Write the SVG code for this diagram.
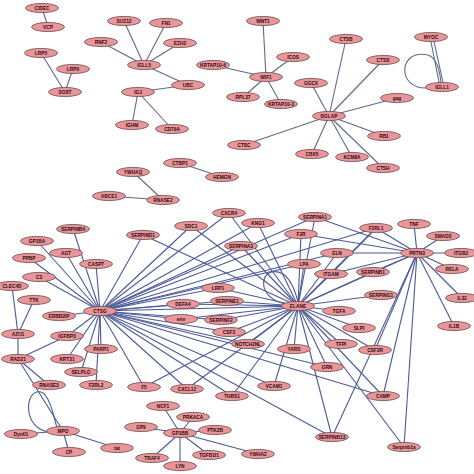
<svg xmlns="http://www.w3.org/2000/svg" width="474" height="474" viewBox="0 0 474 474">
<style>
.e line,.e path{stroke:#4b5a98;stroke-width:1.1;fill:none}
.g line{stroke:#5d6a88}
.n ellipse{fill:#e9969a;stroke:#6e4a4c;stroke-width:0.8}
.n text{font-family:"Liberation Sans",Arial,sans-serif;font-size:4.8px;font-weight:bold;fill:#2a0d10;text-anchor:middle}
</style>
<rect width="474" height="474" fill="#fff"/>
<g id="connectors" class="e">
<g class="g">
<line x1="42" y1="8" x2="48" y2="27"/>
<line x1="41" y1="53" x2="65" y2="92"/>
<line x1="73" y1="69" x2="65" y2="92"/>
<line x1="144" y1="65" x2="124" y2="21"/>
<line x1="144" y1="65" x2="166" y2="23"/>
<line x1="144" y1="65" x2="101" y2="42"/>
<line x1="144" y1="65" x2="180" y2="43"/>
<line x1="144" y1="65" x2="188" y2="85"/>
<line x1="188" y1="85" x2="138" y2="92"/>
<line x1="138" y1="92" x2="132" y2="125"/>
<line x1="138" y1="92" x2="172" y2="129"/>
<line x1="266" y1="77" x2="213" y2="65"/>
<line x1="266" y1="77" x2="263" y2="21"/>
<line x1="266" y1="77" x2="293" y2="57"/>
<line x1="266" y1="77" x2="243" y2="97"/>
<line x1="266" y1="77" x2="281" y2="104"/>
<line x1="329" y1="116" x2="346" y2="39"/>
<line x1="329" y1="116" x2="383" y2="60"/>
<line x1="329" y1="116" x2="311" y2="83"/>
<line x1="329" y1="116" x2="397" y2="98"/>
<line x1="329" y1="116" x2="244" y2="145"/>
<line x1="329" y1="116" x2="384" y2="136"/>
<line x1="329" y1="116" x2="312" y2="154"/>
<line x1="329" y1="116" x2="352" y2="157"/>
<line x1="329" y1="116" x2="383" y2="168"/>
<line x1="430" y1="37" x2="440" y2="87"/>
<line x1="433" y1="37" x2="444" y2="87"/>
<line x1="180" y1="163" x2="222" y2="177"/>
<line x1="133" y1="172" x2="163" y2="200"/>
<line x1="109" y1="196" x2="163" y2="200"/>
</g>
<path d="M428,88 C396,90 398,48 428,55 C437,58 440,72 441,83" style="stroke:#5d6a88"/>
<path d="M290,305 C252,300 260,262 283,274 C292,280 296,294 298,302"/>
<path d="M50,432 C22,430 24,388 41,392 C50,395 54,418 57,428"/>
<!-- CTSG -->
<line x1="100" y1="311" x2="73" y2="229"/>
<line x1="100" y1="311" x2="37" y2="241"/>
<line x1="100" y1="311" x2="66" y2="253"/>
<line x1="100" y1="311" x2="29" y2="258"/>
<line x1="100" y1="311" x2="96" y2="264"/>
<line x1="100" y1="311" x2="39" y2="277"/>
<line x1="100" y1="311" x2="143" y2="235"/>
<line x1="100" y1="311" x2="59" y2="316"/>
<line x1="100" y1="311" x2="67" y2="336"/>
<line x1="100" y1="311" x2="101" y2="349"/>
<line x1="100" y1="311" x2="67" y2="359"/>
<line x1="100" y1="311" x2="81" y2="372"/>
<line x1="100" y1="311" x2="96" y2="385"/>
<line x1="100" y1="311" x2="144" y2="387"/>
<line x1="100" y1="311" x2="229" y2="213"/>
<line x1="100" y1="311" x2="191" y2="226"/>
<line x1="100" y1="311" x2="258" y2="223"/>
<line x1="100" y1="311" x2="241" y2="246"/>
<line x1="100" y1="311" x2="301" y2="234"/>
<line x1="100" y1="311" x2="315" y2="217"/>
<line x1="100" y1="311" x2="218" y2="288"/>
<line x1="100" y1="311" x2="183" y2="304"/>
<line x1="100" y1="311" x2="181" y2="319"/>
<line x1="100" y1="311" x2="227" y2="301"/>
<line x1="100" y1="311" x2="221" y2="320"/>
<line x1="100" y1="311" x2="229" y2="332"/>
<line x1="100" y1="311" x2="248" y2="344"/>
<line x1="100" y1="311" x2="187" y2="389"/>
<line x1="100" y1="311" x2="232" y2="396"/>
<line x1="100" y1="311" x2="274" y2="386"/>
<line x1="100" y1="311" x2="332" y2="437"/>
<line x1="100" y1="311" x2="298" y2="306"/>
<line x1="100" y1="311" x2="327" y2="367"/>
<line x1="100" y1="311" x2="383" y2="396"/>
<line x1="100" y1="311" x2="337" y2="253"/>
<line x1="100" y1="311" x2="376" y2="228"/>
<line x1="100" y1="311" x2="304" y2="264"/>
<!-- ELANE -->
<line x1="298" y1="306" x2="229" y2="213"/>
<line x1="298" y1="306" x2="191" y2="226"/>
<line x1="298" y1="306" x2="258" y2="223"/>
<line x1="298" y1="306" x2="241" y2="246"/>
<line x1="298" y1="306" x2="301" y2="234"/>
<line x1="298" y1="306" x2="315" y2="217"/>
<line x1="298" y1="306" x2="304" y2="264"/>
<line x1="298" y1="306" x2="143" y2="235"/>
<line x1="298" y1="306" x2="218" y2="288"/>
<line x1="298" y1="306" x2="227" y2="301"/>
<line x1="298" y1="306" x2="183" y2="304"/>
<line x1="298" y1="306" x2="181" y2="319"/>
<line x1="298" y1="306" x2="221" y2="320"/>
<line x1="298" y1="306" x2="229" y2="332"/>
<line x1="298" y1="306" x2="248" y2="344"/>
<line x1="298" y1="306" x2="294" y2="349"/>
<line x1="298" y1="306" x2="274" y2="386"/>
<line x1="298" y1="306" x2="232" y2="396"/>
<line x1="298" y1="306" x2="187" y2="389"/>
<line x1="298" y1="306" x2="144" y2="387"/>
<line x1="298" y1="306" x2="339" y2="311"/>
<line x1="298" y1="306" x2="359" y2="328"/>
<line x1="298" y1="306" x2="341" y2="344"/>
<line x1="298" y1="306" x2="375" y2="350"/>
<line x1="298" y1="306" x2="327" y2="367"/>
<line x1="298" y1="306" x2="383" y2="396"/>
<line x1="298" y1="306" x2="332" y2="437"/>
<line x1="298" y1="306" x2="404" y2="447"/>
<line x1="298" y1="306" x2="331" y2="274"/>
<line x1="298" y1="306" x2="337" y2="253"/>
<line x1="298" y1="306" x2="373" y2="272"/>
<line x1="298" y1="306" x2="381" y2="295"/>
<line x1="298" y1="306" x2="417" y2="253"/>
<line x1="298" y1="306" x2="376" y2="228"/>
<!-- PRTN3 -->
<line x1="417" y1="253" x2="414" y2="224"/>
<line x1="417" y1="253" x2="443" y2="236"/>
<line x1="417" y1="253" x2="461" y2="253"/>
<line x1="417" y1="253" x2="452" y2="269"/>
<line x1="417" y1="253" x2="462" y2="298"/>
<line x1="417" y1="253" x2="454" y2="326"/>
<line x1="417" y1="253" x2="376" y2="228"/>
<line x1="417" y1="253" x2="337" y2="253"/>
<line x1="417" y1="253" x2="315" y2="217"/>
<line x1="417" y1="253" x2="301" y2="234"/>
<line x1="417" y1="253" x2="331" y2="274"/>
<line x1="417" y1="253" x2="373" y2="272"/>
<line x1="417" y1="253" x2="375" y2="350"/>
<line x1="417" y1="253" x2="383" y2="396"/>
<line x1="417" y1="253" x2="332" y2="437"/>
<line x1="417" y1="253" x2="404" y2="447"/>
<line x1="376" y1="228" x2="331" y2="274"/>
<!-- left / bottom -->
<line x1="18" y1="334" x2="12" y2="286"/>
<line x1="18" y1="334" x2="34" y2="300"/>
<line x1="18" y1="334" x2="18" y2="359"/>
<line x1="18" y1="359" x2="67" y2="336"/>
<line x1="18" y1="359" x2="49" y2="385"/>
<line x1="18" y1="359" x2="63" y2="431"/>
<line x1="63" y1="431" x2="21" y2="434"/>
<line x1="63" y1="431" x2="69" y2="452"/>
<line x1="63" y1="431" x2="117" y2="448"/>
<line x1="180" y1="433" x2="163" y2="406"/>
<line x1="180" y1="433" x2="193" y2="417"/>
<line x1="180" y1="433" x2="141" y2="427"/>
<line x1="180" y1="433" x2="215" y2="430"/>
<line x1="180" y1="433" x2="152" y2="458"/>
<line x1="180" y1="433" x2="180" y2="466"/>
<line x1="180" y1="433" x2="209" y2="455"/>
<line x1="180" y1="433" x2="258" y2="454"/>
</g>
<g id="nodes" class="n">
<g id="n-CIDEC"><ellipse cx="42" cy="8" rx="16.5" ry="4.6"/><text x="42" y="9.7">CIDEC</text></g>
<g id="n-VCP"><ellipse cx="48" cy="27" rx="16.5" ry="4.6"/><text x="48" y="28.7">VCP</text></g>
<g id="n-LRP5"><ellipse cx="41" cy="53" rx="16.5" ry="4.6"/><text x="41" y="54.7">LRP5</text></g>
<g id="n-LRP6"><ellipse cx="73" cy="69" rx="16.5" ry="4.6"/><text x="73" y="70.7">LRP6</text></g>
<g id="n-SOST"><ellipse cx="65" cy="92" rx="16.5" ry="4.6"/><text x="65" y="93.7">SOST</text></g>
<g id="n-SUZ12"><ellipse cx="124" cy="21" rx="16.5" ry="4.6"/><text x="124" y="22.7">SUZ12</text></g>
<g id="n-FN1"><ellipse cx="166" cy="23" rx="16.5" ry="4.6"/><text x="166" y="24.7">FN1</text></g>
<g id="n-RNF2"><ellipse cx="101" cy="42" rx="16.5" ry="4.6"/><text x="101" y="43.7">RNF2</text></g>
<g id="n-EZH2"><ellipse cx="180" cy="43" rx="16.5" ry="4.6"/><text x="180" y="44.7">EZH2</text></g>
<g id="n-IGLL5"><ellipse cx="144" cy="65" rx="16.5" ry="4.6"/><text x="144" y="66.7">IGLL5</text></g>
<g id="n-UBC"><ellipse cx="188" cy="85" rx="16.5" ry="4.6"/><text x="188" y="86.7">UBC</text></g>
<g id="n-IGJ"><ellipse cx="138" cy="92" rx="16.5" ry="4.6"/><text x="138" y="93.7">IGJ</text></g>
<g id="n-IGHM"><ellipse cx="132" cy="125" rx="16.5" ry="4.6"/><text x="132" y="126.7">IGHM</text></g>
<g id="n-CD79A"><ellipse cx="172" cy="129" rx="16.5" ry="4.6"/><text x="172" y="130.7">CD79A</text></g>
<g id="n-KRTAP10-6"><ellipse cx="213" cy="65" rx="16.5" ry="4.6"/><text x="213" y="66.7">KRTAP10-6</text></g>
<g id="n-WNT1"><ellipse cx="263" cy="21" rx="16.5" ry="4.6"/><text x="263" y="22.7">WNT1</text></g>
<g id="n-ICOS"><ellipse cx="293" cy="57" rx="16.5" ry="4.6"/><text x="293" y="58.7">ICOS</text></g>
<g id="n-WIF1"><ellipse cx="266" cy="77" rx="16.5" ry="4.6"/><text x="266" y="78.7">WIF1</text></g>
<g id="n-RPL37"><ellipse cx="243" cy="97" rx="16.5" ry="4.6"/><text x="243" y="98.7">RPL37</text></g>
<g id="n-KRTAP10-3"><ellipse cx="281" cy="104" rx="16.5" ry="4.6"/><text x="281" y="105.7">KRTAP10-3</text></g>
<g id="n-CTSB"><ellipse cx="346" cy="39" rx="16.5" ry="4.6"/><text x="346" y="40.7">CTSB</text></g>
<g id="n-CTSS"><ellipse cx="383" cy="60" rx="16.5" ry="4.6"/><text x="383" y="61.7">CTSS</text></g>
<g id="n-GGCX"><ellipse cx="311" cy="83" rx="16.5" ry="4.6"/><text x="311" y="84.7">GGCX</text></g>
<g id="n-gag"><ellipse cx="397" cy="98" rx="16.5" ry="4.6"/><text x="397" y="99.7">gag</text></g>
<g id="n-BGLAP"><ellipse cx="329" cy="116" rx="16.5" ry="4.6"/><text x="329" y="117.7">BGLAP</text></g>
<g id="n-MYOC"><ellipse cx="431" cy="37" rx="16.5" ry="4.6"/><text x="431" y="38.7">MYOC</text></g>
<g id="n-IGLL1"><ellipse cx="442" cy="87" rx="16.5" ry="4.6"/><text x="442" y="88.7">IGLL1</text></g>
<g id="n-RB1"><ellipse cx="384" cy="136" rx="16.5" ry="4.6"/><text x="384" y="137.7">RB1</text></g>
<g id="n-CBX5"><ellipse cx="312" cy="154" rx="16.5" ry="4.6"/><text x="312" y="155.7">CBX5</text></g>
<g id="n-KCM8A"><ellipse cx="352" cy="157" rx="16.5" ry="4.6"/><text x="352" y="158.7">KCM8A</text></g>
<g id="n-CTSH"><ellipse cx="383" cy="168" rx="16.5" ry="4.6"/><text x="383" y="169.7">CTSH</text></g>
<g id="n-CTSC"><ellipse cx="244" cy="145" rx="16.5" ry="4.6"/><text x="244" y="146.7">CTSC</text></g>
<g id="n-CTBP1"><ellipse cx="180" cy="163" rx="16.5" ry="4.6"/><text x="180" y="164.7">CTBP1</text></g>
<g id="n-HEMGN"><ellipse cx="222" cy="177" rx="16.5" ry="4.6"/><text x="222" y="178.7">HEMGN</text></g>
<g id="n-YWHAQ"><ellipse cx="133" cy="172" rx="16.5" ry="4.6"/><text x="133" y="173.7">YWHAQ</text></g>
<g id="n-ABCE1"><ellipse cx="109" cy="196" rx="16.5" ry="4.6"/><text x="109" y="197.7">ABCE1</text></g>
<g id="n-RNASE2"><ellipse cx="163" cy="200" rx="16.5" ry="4.6"/><text x="163" y="201.7">RNASE2</text></g>
<g id="n-CXCR4"><ellipse cx="229" cy="213" rx="16.5" ry="4.6"/><text x="229" y="214.7">CXCR4</text></g>
<g id="n-SERPINA1"><ellipse cx="315" cy="217" rx="16.5" ry="4.6"/><text x="315" y="218.7">SERPINA1</text></g>
<g id="n-SDC1"><ellipse cx="191" cy="226" rx="16.5" ry="4.6"/><text x="191" y="227.7">SDC1</text></g>
<g id="n-KNG1"><ellipse cx="258" cy="223" rx="16.5" ry="4.6"/><text x="258" y="224.7">KNG1</text></g>
<g id="n-TNF"><ellipse cx="414" cy="224" rx="16.5" ry="4.6"/><text x="414" y="225.7">TNF</text></g>
<g id="n-F2RL1"><ellipse cx="376" cy="228" rx="16.5" ry="4.6"/><text x="376" y="229.7">F2RL1</text></g>
<g id="n-SERPINB4"><ellipse cx="73" cy="229" rx="16.5" ry="4.6"/><text x="73" y="230.7">SERPINB4</text></g>
<g id="n-F2R"><ellipse cx="301" cy="234" rx="16.5" ry="4.6"/><text x="301" y="235.7">F2R</text></g>
<g id="n-SERPIND1"><ellipse cx="143" cy="235" rx="16.5" ry="4.6"/><text x="143" y="236.7">SERPIND1</text></g>
<g id="n-SMAD3"><ellipse cx="443" cy="236" rx="16.5" ry="4.6"/><text x="443" y="237.7">SMAD3</text></g>
<g id="n-GP1BA"><ellipse cx="37" cy="241" rx="16.5" ry="4.6"/><text x="37" y="242.7">GP1BA</text></g>
<g id="n-SERPINA3"><ellipse cx="241" cy="246" rx="16.5" ry="4.6"/><text x="241" y="247.7">SERPINA3</text></g>
<g id="n-ELN"><ellipse cx="337" cy="253" rx="16.5" ry="4.6"/><text x="337" y="254.7">ELN</text></g>
<g id="n-PRTN3"><ellipse cx="417" cy="253" rx="16.5" ry="4.6"/><text x="417" y="254.7">PRTN3</text></g>
<g id="n-ITGB2"><ellipse cx="461" cy="253" rx="16.5" ry="4.6"/><text x="461" y="254.7">ITGB2</text></g>
<g id="n-AGT"><ellipse cx="66" cy="253" rx="16.5" ry="4.6"/><text x="66" y="254.7">AGT</text></g>
<g id="n-PPBP"><ellipse cx="29" cy="258" rx="16.5" ry="4.6"/><text x="29" y="259.7">PPBP</text></g>
<g id="n-CASP7"><ellipse cx="96" cy="264" rx="16.5" ry="4.6"/><text x="96" y="265.7">CASP7</text></g>
<g id="n-LPA"><ellipse cx="304" cy="264" rx="16.5" ry="4.6"/><text x="304" y="265.7">LPA</text></g>
<g id="n-RELA"><ellipse cx="452" cy="269" rx="16.5" ry="4.6"/><text x="452" y="270.7">RELA</text></g>
<g id="n-SERPINB1"><ellipse cx="373" cy="272" rx="16.5" ry="4.6"/><text x="373" y="273.7">SERPINB1</text></g>
<g id="n-ITGAM"><ellipse cx="331" cy="274" rx="16.5" ry="4.6"/><text x="331" y="275.7">ITGAM</text></g>
<g id="n-C3"><ellipse cx="39" cy="277" rx="16.5" ry="4.6"/><text x="39" y="278.7">C3</text></g>
<g id="n-CLEC4D"><ellipse cx="12" cy="286" rx="16.5" ry="4.6"/><text x="12" y="287.7">CLEC4D</text></g>
<g id="n-LRP1"><ellipse cx="218" cy="288" rx="16.5" ry="4.6"/><text x="218" y="289.7">LRP1</text></g>
<g id="n-SERPING1"><ellipse cx="381" cy="295" rx="16.5" ry="4.6"/><text x="381" y="296.7">SERPING1</text></g>
<g id="n-IL32"><ellipse cx="462" cy="298" rx="16.5" ry="4.6"/><text x="462" y="299.7">IL32</text></g>
<g id="n-TTK"><ellipse cx="34" cy="300" rx="16.5" ry="4.6"/><text x="34" y="301.7">TTK</text></g>
<g id="n-SERPINE1"><ellipse cx="227" cy="301" rx="16.5" ry="4.6"/><text x="227" y="302.7">SERPINE1</text></g>
<g id="n-DEFA4"><ellipse cx="183" cy="304" rx="16.5" ry="4.6"/><text x="183" y="305.7">DEFA4</text></g>
<g id="n-ELANE"><ellipse cx="298" cy="306" rx="16.5" ry="4.6"/><text x="298" y="307.7">ELANE</text></g>
<g id="n-CTSG"><ellipse cx="100" cy="311" rx="16.5" ry="4.6"/><text x="100" y="312.7">CTSG</text></g>
<g id="n-TGFA"><ellipse cx="339" cy="311" rx="16.5" ry="4.6"/><text x="339" y="312.7">TGFA</text></g>
<g id="n-ERBB2IP"><ellipse cx="59" cy="316" rx="16.5" ry="4.6"/><text x="59" y="317.7">ERBB2IP</text></g>
<g id="n-env"><ellipse cx="181" cy="319" rx="16.5" ry="4.6"/><text x="181" y="320.7">env</text></g>
<g id="n-SERPINF2"><ellipse cx="221" cy="320" rx="16.5" ry="4.6"/><text x="221" y="321.7">SERPINF2</text></g>
<g id="n-IL1B"><ellipse cx="454" cy="326" rx="16.5" ry="4.6"/><text x="454" y="327.7">IL1B</text></g>
<g id="n-SLPI"><ellipse cx="359" cy="328" rx="16.5" ry="4.6"/><text x="359" y="329.7">SLPI</text></g>
<g id="n-CSF3"><ellipse cx="229" cy="332" rx="16.5" ry="4.6"/><text x="229" y="333.7">CSF3</text></g>
<g id="n-AZU1"><ellipse cx="18" cy="334" rx="16.5" ry="4.6"/><text x="18" y="335.7">AZU1</text></g>
<g id="n-IGFBP3"><ellipse cx="67" cy="336" rx="16.5" ry="4.6"/><text x="67" y="337.7">IGFBP3</text></g>
<g id="n-TFPI"><ellipse cx="341" cy="344" rx="16.5" ry="4.6"/><text x="341" y="345.7">TFPI</text></g>
<g id="n-NOTCH2NL"><ellipse cx="248" cy="344" rx="16.5" ry="4.6"/><text x="248" y="345.7">NOTCH2NL</text></g>
<g id="n-PARP1"><ellipse cx="101" cy="349" rx="16.5" ry="4.6"/><text x="101" y="350.7">PARP1</text></g>
<g id="n-YARS"><ellipse cx="294" cy="349" rx="16.5" ry="4.6"/><text x="294" y="350.7">YARS</text></g>
<g id="n-CSF3R"><ellipse cx="375" cy="350" rx="16.5" ry="4.6"/><text x="375" y="351.7">CSF3R</text></g>
<g id="n-RAD21"><ellipse cx="18" cy="359" rx="16.5" ry="4.6"/><text x="18" y="360.7">RAD21</text></g>
<g id="n-KRT31"><ellipse cx="67" cy="359" rx="16.5" ry="4.6"/><text x="67" y="360.7">KRT31</text></g>
<g id="n-GRN"><ellipse cx="327" cy="367" rx="16.5" ry="4.6"/><text x="327" y="368.7">GRN</text></g>
<g id="n-SELPLG"><ellipse cx="81" cy="372" rx="16.5" ry="4.6"/><text x="81" y="373.7">SELPLG</text></g>
<g id="n-RNASE3"><ellipse cx="49" cy="385" rx="16.5" ry="4.6"/><text x="49" y="386.7">RNASE3</text></g>
<g id="n-F2RL2"><ellipse cx="96" cy="385" rx="16.5" ry="4.6"/><text x="96" y="386.7">F2RL2</text></g>
<g id="n-VCAM1"><ellipse cx="274" cy="386" rx="16.5" ry="4.6"/><text x="274" y="387.7">VCAM1</text></g>
<g id="n-F5"><ellipse cx="144" cy="387" rx="16.5" ry="4.6"/><text x="144" y="388.7">F5</text></g>
<g id="n-CXCL12"><ellipse cx="187" cy="389" rx="16.5" ry="4.6"/><text x="187" y="390.7">CXCL12</text></g>
<g id="n-CAMP"><ellipse cx="383" cy="396" rx="16.5" ry="4.6"/><text x="383" y="397.7">CAMP</text></g>
<g id="n-THBS1"><ellipse cx="232" cy="396" rx="16.5" ry="4.6"/><text x="232" y="397.7">THBS1</text></g>
<g id="n-NCF1"><ellipse cx="163" cy="406" rx="16.5" ry="4.6"/><text x="163" y="407.7">NCF1</text></g>
<g id="n-PRKACA"><ellipse cx="193" cy="417" rx="16.5" ry="4.6"/><text x="193" y="418.7">PRKACA</text></g>
<g id="n-GP9"><ellipse cx="141" cy="427" rx="16.5" ry="4.6"/><text x="141" y="428.7">GP9</text></g>
<g id="n-PTK2B"><ellipse cx="215" cy="430" rx="16.5" ry="4.6"/><text x="215" y="431.7">PTK2B</text></g>
<g id="n-MPO"><ellipse cx="63" cy="431" rx="16.5" ry="4.6"/><text x="63" y="432.7">MPO</text></g>
<g id="n-GP1BB"><ellipse cx="180" cy="433" rx="16.5" ry="4.6"/><text x="180" y="434.7">GP1BB</text></g>
<g id="n-Dynll1"><ellipse cx="21" cy="434" rx="16.5" ry="4.6"/><text x="21" y="435.7">Dynll1</text></g>
<g id="n-SERPINB13"><ellipse cx="332" cy="437" rx="16.5" ry="4.6"/><text x="332" y="438.7">SERPINB13</text></g>
<g id="n-Serpinb1a"><ellipse cx="404" cy="447" rx="16.5" ry="4.6"/><text x="404" y="448.7">Serpinb1a</text></g>
<g id="n-tat"><ellipse cx="117" cy="448" rx="16.5" ry="4.6"/><text x="117" y="449.7">tat</text></g>
<g id="n-CP"><ellipse cx="69" cy="452" rx="16.5" ry="4.6"/><text x="69" y="453.7">CP</text></g>
<g id="n-YWHAZ"><ellipse cx="258" cy="454" rx="16.5" ry="4.6"/><text x="258" y="455.7">YWHAZ</text></g>
<g id="n-TGFB1I1"><ellipse cx="209" cy="455" rx="16.5" ry="4.6"/><text x="209" y="456.7">TGFB1I1</text></g>
<g id="n-TRAF4"><ellipse cx="152" cy="458" rx="16.5" ry="4.6"/><text x="152" y="459.7">TRAF4</text></g>
<g id="n-LYN"><ellipse cx="180" cy="466" rx="16.5" ry="4.6"/><text x="180" y="467.7">LYN</text></g>
</g>
</svg>
